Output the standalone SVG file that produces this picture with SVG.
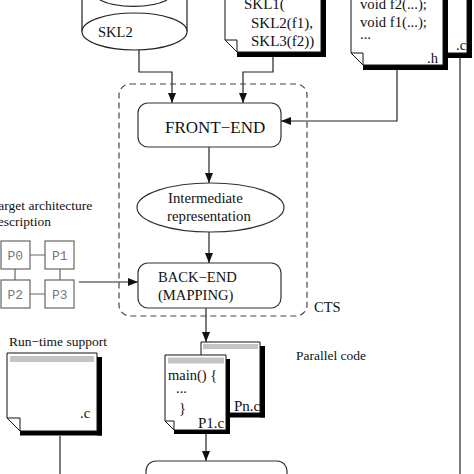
<svg xmlns="http://www.w3.org/2000/svg" width="474" height="474" viewBox="0 0 474 474">
<style>
.t{font-family:"Liberation Serif","Times New Roman",serif;fill:#111}
.m{font-family:"Liberation Mono","Courier New",monospace;fill:#777;font-size:13px}
.ln{fill:none;stroke:#222;stroke-width:1.2}
.box{fill:#fff;stroke:#333;stroke-width:1.2}
.pg{fill:#fff;stroke:#111;stroke-width:1}
.sh{fill:#000}
.bar{fill:#c4c4c4}
.pb{fill:#fff;stroke:#666;stroke-width:1.2}
.pl{stroke:#666;stroke-width:1.2;fill:none}
</style>
<defs>
<marker id="ah" markerUnits="userSpaceOnUse" markerWidth="10" markerHeight="8" refX="10" refY="4" orient="auto">
<path d="M0,0 L10,4 L0,8 z" fill="#111"/>
</marker>
</defs>
<rect width="474" height="474" fill="#fff"/>

<g id="connectors">
<path class="ln" d="M139,50 V72 H172 V103" marker-end="url(#ah)"/>
<path class="ln" d="M273,57 V72 H243 V103" marker-end="url(#ah)"/>
<path class="ln" d="M397,70 V121 H281" marker-end="url(#ah)"/>
<path class="ln" d="M460,58 V474"/>
<path class="ln" d="M209,147 V183" marker-end="url(#ah)"/>
<path class="ln" d="M209,232 V263" marker-end="url(#ah)"/>
<path class="ln" d="M79,282 H138" marker-end="url(#ah)"/>
<path class="ln" d="M206,308 V342" marker-end="url(#ah)"/>
<path class="ln" d="M206,434 V461" marker-end="url(#ah)"/>
<path class="ln" d="M60,436 V474"/>
</g>

<g id="cts">
<rect x="119" y="84" width="188" height="232" rx="11" fill="none" stroke="#444" stroke-width="1.2" stroke-dasharray="6 4"/>
<text class="t" x="314" y="312" font-size="14.5">CTS</text>
</g>

<g id="skl2">
<path class="ln" d="M82,0 V31.5 M187,0 V31.5"/>
<path class="ln" d="M100,0 A40,14 0 0,0 167,0"/>
<ellipse cx="134.5" cy="31.5" rx="52.5" ry="18.5" fill="#fff" stroke="#222" stroke-width="1.2"/>
<text class="t" x="98" y="37" font-size="14.5">SKL2</text>
</g>

<g id="skl1doc">
<rect class="sh" x="237" y="52" width="89" height="5"/>
<rect class="sh" x="321" y="-15" width="5" height="72"/>
<rect class="sh" x="237" y="40" width="3" height="12"/>
<path class="pg" d="M225,-20 H321 V52 H237 L225,40 Z"/>
<path class="pg" d="M225,40 H237 V52 Z"/>
<text class="t" font-size="15"><tspan x="244" y="9">SKL1(</tspan><tspan x="251" y="28">SKL2(f1),</tspan><tspan x="251" y="46">SKL3(f2))</tspan></text>
</g>

<g id="cdoc">
<rect class="sh" x="392" y="53" width="80" height="5"/>
<rect class="sh" x="467" y="-15" width="5" height="73"/>
<path class="pg" d="M380,-20 H467 V53 H380 Z"/>
<text class="t" x="456" y="50" font-size="14.5">.c</text>
</g>

<g id="hdoc">
<rect class="sh" x="363" y="65" width="85" height="5"/>
<rect class="sh" x="443" y="-15" width="5" height="85"/>
<rect class="sh" x="363" y="53" width="3" height="12"/>
<path class="pg" d="M351,-20 H443 V65 H363 L351,53 Z"/>
<path class="pg" d="M351,53 H363 V65 Z"/>
<text class="t" font-size="14.7"><tspan x="360" y="9">void f2(...);</tspan><tspan x="360" y="27">void f1(...);</tspan></text>
<text class="t" x="360" y="39" font-size="14.7">...</text>
<text class="t" x="427" y="63" font-size="14.5">.h</text>
</g>

<g id="frontend">
<rect class="box" x="138" y="103" width="143" height="44" rx="10"/>
<text class="t" x="165" y="133" font-size="17">FRONT−END</text>
</g>

<g id="ir">
<ellipse cx="210.5" cy="207.5" rx="73.5" ry="24.5" class="box"/>
<text class="t" font-size="14.8"><tspan x="168" y="203">Intermediate</tspan><tspan x="167" y="221">representation</tspan></text>
</g>

<g id="backend">
<rect class="box" x="138" y="263" width="143" height="45" rx="10"/>
<text class="t" font-size="14.6"><tspan x="158" y="282">BACK−END</tspan><tspan x="158" y="300">(MAPPING)</tspan></text>
</g>

<g id="target">
<text class="t" font-size="13.5"><tspan x="-9" y="210">Target architecture</tspan><tspan x="-9" y="226">description</tspan></text>
<path class="pl" d="M30,255 H45 M30,294 H45 M15,269 V280 M60,269 V280"/>
<rect class="pb" x="1" y="241" width="29" height="28"/>
<rect class="pb" x="45" y="241" width="29" height="28"/>
<rect class="pb" x="1" y="280" width="29" height="28"/>
<rect class="pb" x="45" y="280" width="29" height="28"/>
<text class="m" x="7.5" y="260">P0</text>
<text class="m" x="52" y="260">P1</text>
<text class="m" x="7.5" y="299">P2</text>
<text class="m" x="52" y="299">P3</text>
</g>

<g id="runtime">
<text class="t" x="9" y="346" font-size="13.5">Run−time support</text>
<rect class="sh" x="20" y="431" width="82" height="4.5"/>
<rect class="sh" x="97" y="357" width="5" height="78.5"/>
<rect class="sh" x="20" y="418" width="3" height="13"/>
<path class="pg" d="M7,353 H97 V431 H20 L7,418 Z"/>
<path class="pg" d="M7,418 H20 V431 Z"/>
<rect class="bar" x="10" y="356" width="84" height="6"/>
<text class="t" x="80" y="418" font-size="14.5">.c</text>
</g>

<g id="pncode">
<rect class="sh" x="205" y="413" width="60" height="4.5"/>
<rect class="sh" x="260" y="346" width="5" height="71.5"/>
<path class="pg" d="M201,342 H260 V413 H201 Z"/>
<rect class="bar" x="203" y="344" width="55" height="5"/>
<text class="t" x="234" y="411" font-size="15">Pn.c</text>
</g>

<g id="p1code">
<rect class="sh" x="174" y="430" width="56" height="4"/>
<rect class="sh" x="226" y="359" width="4" height="75"/>
<rect class="sh" x="174" y="421" width="2.5" height="9"/>
<path class="pg" d="M165,355 H226 V430 H174 L165,421 Z"/>
<path class="pg" d="M165,421 H174 V430 Z"/>
<rect class="bar" x="168" y="357.5" width="56" height="6"/>
<text class="t" x="168" y="380" font-size="14.5">main() {</text>
<text class="t" x="176" y="393" font-size="14.5">...</text>
<text class="t" x="179" y="413" font-size="14.5">}</text>
<text class="t" x="198" y="428" font-size="15">P1.c</text>
</g>

<g id="parallel">
<text class="t" x="296" y="360" font-size="13.5">Parallel code</text>
</g>

<g id="bottom">
<rect class="box" x="146" y="461" width="141" height="40" rx="10"/>
</g>
</svg>
